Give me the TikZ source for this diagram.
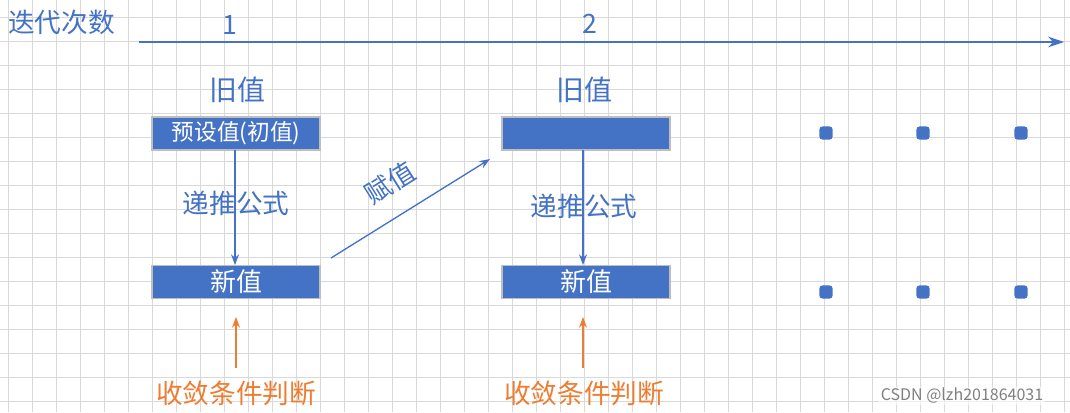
\documentclass[tikz,border=0pt]{standalone}
\usepackage{fontspec}
\setmainfont{Noto Sans CJK SC}
\usetikzlibrary{arrows.meta}
\definecolor{bl}{HTML}{4472C4}
\definecolor{og}{HTML}{ED7D31}
\definecolor{gr}{HTML}{D9D9D9}
\tikzset{
 box/.style={draw=gr!70!gray,fill=bl,text=white,minimum width=168*0.75pt,minimum height=33*0.75pt,inner sep=0pt,line width=0.8pt},
 lab/.style={text=bl,font=\fontsize{20}{22}\selectfont,inner sep=0pt},
 olab/.style={text=og,font=\fontsize{20}{22}\selectfont,inner sep=0pt},
 arr/.style={bl,line width=1pt,-{Stealth[length=8pt,width=6pt]}},
 oarr/.style={og,line width=1pt,-{Stealth[length=8pt,width=6pt]}},
 dot/.style={fill=bl,rounded corners=2.5pt,minimum size=10pt,inner sep=0pt}
}
\begin{document}
\begin{tikzpicture}[x=0.75pt,y=-0.75pt]
\fill[white] (0,0) rectangle (1070,412);
\useasboundingbox (0,0) rectangle (1070,412);
\foreach \i in {0,...,44} \draw[gr,line width=0.6pt] (8+24*\i,0) -- (8+24*\i,412);
\foreach \j in {0,...,16} \draw[gr,line width=0.6pt] (0,17+24*\j) -- (1070,17+24*\j);
\node[lab,anchor=west] (t) at (8,22) {迭代次数};
\coordinate (a0) at (139,42); \coordinate (a1) at (1064,42);
\draw[arr,-{Stealth[length=12pt,width=8pt]}] (a0) -- (a1);
\node[lab] (n1) at (230,25) {1};
\node[lab] (n2) at (590,24) {2};
\node[lab,font=\fontsize{21}{22}\selectfont] (o1) at (237,90) {旧值};
\node[lab,font=\fontsize{21}{22}\selectfont] (o2) at (584,90) {旧值};
\node[box,font=\fontsize{17}{18}\selectfont] (b1) at (236,133.5) {预设值(初值)};
\node[box] (b2) at (586,133.5) {};
\node[box,font=\fontsize{19.5}{20}\selectfont] (b3) at (236,282) {新值};
\node[box,font=\fontsize{19.5}{20}\selectfont] (b4) at (586,282) {新值};
\draw[arr] (235,150) -- (235,265);
\draw[arr] (583,150) -- (583,265);
\node[lab] (r1) at (236,203) {递推公式};
\node[lab] (r2) at (584,206) {递推公式};
\coordinate (s0) at (331,258); \coordinate (s1) at (490,159);
\draw[arr] (s0) -- (s1);
\node[lab,rotate=32] (f) at (390,183) {赋值};
\coordinate (c1) at (236,368); \coordinate (c2) at (583,368);
\draw[oarr] (c1) -- (236,317);
\draw[oarr] (c2) -- (583,317);
\node[olab] (j1) at (236,393) {收敛条件判断};
\node[olab] (j2) at (584,393) {收敛条件判断};
\foreach \x in {826,923,1021} {\node[dot] at (\x,133) {}; \node[dot] at (\x,292) {};}
\node[text=gray,font=\fontsize{12}{13}\selectfont,fill=white,fill opacity=0.6,text opacity=1,inner sep=1pt] (w) at (962,396) {CSDN @lzh201864031};
\end{tikzpicture}
\end{document}
